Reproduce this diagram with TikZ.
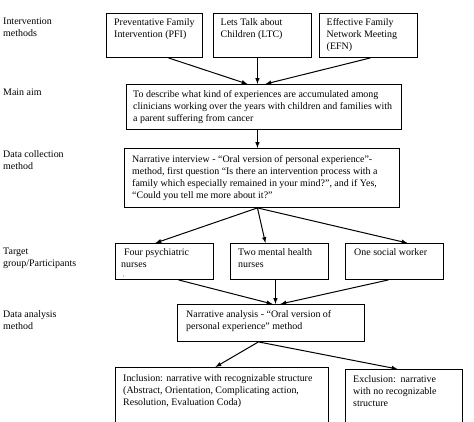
\documentclass[tikz,border=0pt]{standalone}
\usepackage{fontspec}
\setmainfont{Liberation Serif}
\usetikzlibrary{positioning}
\usetikzlibrary{arrows}
\tikzset{
  box/.style={anchor=north west, draw, line width=0.9pt, shape=rectangle, inner sep=0pt},
  boxtext/.style={anchor=north west, align=left, inner sep=0pt, font=\fontsize{9.95}{11.8}\selectfont},
  arr/.style={-latex, line width=1pt}
}
\begin{document}
\begin{tikzpicture}[x=1pt,y=-1pt]
\useasboundingbox (0,0) rectangle (474,421);
\clip (0,0) rectangle (474,421);

% row labels
\node[boxtext] (lab1) at (3,17.5) {Intervention\\methods};
\node[boxtext] (lab2) at (3,88.5) {Main aim};
\node[boxtext] (lab3) at (3,150.5) {Data collection\\method};
\node[boxtext] (lab4) at (3,247.5) {Target\\group/Participants};
\node[boxtext] (lab5) at (3,310.5) {Data analysis\\method};

% boxes
\node[box,minimum width=96pt,minimum height=44pt] (pfi) at (106,13) {};
\node[box,minimum width=98pt,minimum height=44pt] (ltc) at (213,13) {};
\node[box,minimum width=98pt,minimum height=44pt] (efn) at (319,13) {};
\node[box,minimum width=275pt,minimum height=45pt] (aim) at (126,84) {};
\node[box,minimum width=275pt,minimum height=59pt] (coll) at (124,148) {};
\node[box,minimum width=98pt,minimum height=36pt] (four) at (115,243) {};
\node[box,minimum width=98pt,minimum height=36pt] (two) at (230,243) {};
\node[box,minimum width=98pt,minimum height=36pt] (one) at (345,243) {};
\node[box,minimum width=187pt,minimum height=37pt] (anal) at (177,304) {};
\node[box,minimum width=213pt,minimum height=80pt] (incl) at (115,367) {};
\node[box,minimum width=117pt,minimum height=80pt] (excl) at (345,369) {};

% box texts
\node[boxtext] at ([xshift=8pt,yshift=-5.5pt]pfi.north west) {Preventative Family\\Intervention (PFI)};
\node[boxtext] at ([xshift=7.5pt,yshift=-5.5pt]ltc.north west) {Lets Talk about\\Children (LTC)};
\node[boxtext] at ([xshift=7.5pt,yshift=-5.5pt]efn.north west) {Effective Family\\Network Meeting\\(EFN)};
\node[boxtext] at ([xshift=7pt,yshift=-6.5pt]aim.north west)
{To describe what kind of experiences are accumulated among\\clinicians working over the years with children and families with\\a parent suffering from cancer};
\node[boxtext] at ([xshift=8pt,yshift=-7.5pt]coll.north west)
{Narrative interview - ``Oral version of personal experience''-\\method, first question ``Is there an intervention process with a\\family which especially remained in your mind?'', and if Yes,\\``Could you tell me more about it?''};
\node[boxtext] at ([xshift=6pt,yshift=-5.5pt]four.north west) {\hspace{3pt}Four psychiatric\\nurses\\[-3pt]\hspace{2pt}{\tiny ,}};
\node[boxtext] at ([xshift=8pt,yshift=-5.5pt]two.north west) {Two mental health\\nurses};
\node[boxtext] at ([xshift=9pt,yshift=-5.5pt]one.north west) {One social worker};
\node[boxtext] at ([xshift=9pt,yshift=-6.5pt]anal.north west) {Narrative analysis - ``Oral version of\\personal experience'' method};
\node[boxtext] at ([xshift=8pt,yshift=-7.5pt]incl.north west)
{Inclusion: narrative with recognizable structure\\(Abstract, Orientation, Complicating action,\\Resolution, Evaluation Coda)};
\node[boxtext] at ([xshift=8pt,yshift=-6.5pt]excl.north west) {Exclusion:\ \ narrative\\with no recognizable\\structure};

% connectors
\draw[arr] ([xshift=14pt]pfi.south) -- ([xshift=-16.5pt]aim.north);
\draw[arr] ([xshift=-5pt]ltc.south) -- ([xshift=-6.5pt]aim.north);
\draw[arr] ([xshift=2pt]efn.south) -- ([xshift=1.5pt]aim.north);
\draw[arr] ([xshift=-6.5pt]aim.south) -- ([xshift=-4.5pt]coll.north);
\draw[arr] ([xshift=-4.5pt]coll.south) -- ([xshift=-9pt]four.north);
\draw[arr] ([xshift=-4.5pt]coll.south) -- ([xshift=-14pt]two.north);
\draw[arr] ([xshift=-4.5pt]coll.south) -- ([xshift=13pt]one.north);
\draw[arr] ([xshift=14pt]four.south) -- ([xshift=1.5pt]anal.north);
\draw[arr] ([xshift=-4pt]two.south) -- ([xshift=4.5pt]anal.north);
\draw[arr] ([xshift=-6pt]one.south) -- ([xshift=9.5pt]anal.north);
\draw[arr] ([xshift=-12.5pt]anal.south) -- ([xshift=-6.5pt]incl.north);
\draw[arr] ([xshift=-12.5pt]anal.south) -- ([xshift=-6.5pt]excl.north);

\end{tikzpicture}
\end{document}
